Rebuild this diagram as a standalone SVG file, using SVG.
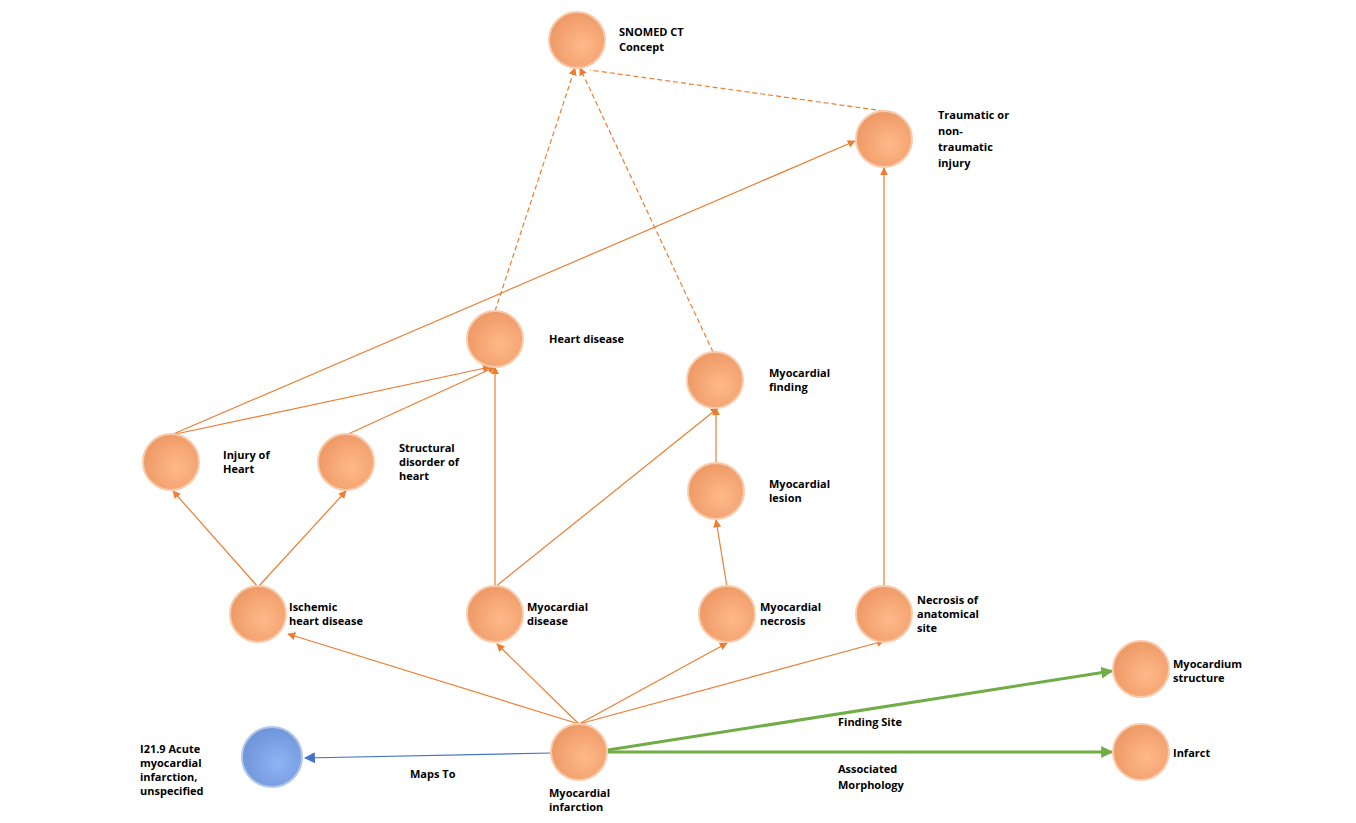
<svg xmlns="http://www.w3.org/2000/svg" width="1356" height="823" viewBox="0 0 1356 823">
<style>
text{font-family:"Open Sans","Liberation Sans",sans-serif;font-size:11px;font-weight:bold;fill:#000}
.o{stroke:#ED7D31;stroke-width:1.2;fill:none}
.d{stroke-dasharray:5 3}
.g{stroke:#70AD47;stroke-width:3;fill:none}
.b{stroke:#4472C4;stroke-width:1.2;fill:none}
.n{fill:url(#og);stroke:#F8CBAD;stroke-width:2}
.nb{fill:url(#bg);stroke:#B4C7E7;stroke-width:2}
</style>
<defs>
<radialGradient id="og" cx="0.6" cy="0.6" r="0.6"><stop offset="0" stop-color="#FFB98A"/><stop offset="1" stop-color="#EE9A66"/></radialGradient>
<radialGradient id="bg" cx="0.6" cy="0.6" r="0.6"><stop offset="0" stop-color="#8EB4F5"/><stop offset="1" stop-color="#6F95DA"/></radialGradient>
<marker id="ao" viewBox="0 0 10 10" refX="9" refY="5" markerWidth="8" markerHeight="8" markerUnits="userSpaceOnUse" orient="auto"><path d="M0,0L10,5L0,10z" fill="#ED7D31"/></marker>
<marker id="ag" viewBox="0 0 10 10" refX="9" refY="5" markerWidth="12" markerHeight="12" markerUnits="userSpaceOnUse" orient="auto"><path d="M0,0L10,5L0,10z" fill="#70AD47"/></marker>
<marker id="ab" viewBox="0 0 10 10" refX="9" refY="5" markerWidth="11" markerHeight="11" markerUnits="userSpaceOnUse" orient="auto"><path d="M0,0L10,5L0,10z" fill="#4472C4"/></marker>
</defs>
<g id="connectors">
<line class="o d" x1="495" y1="311" x2="575" y2="68" marker-end="url(#ao)"/>
<line class="o d" x1="713" y1="352" x2="580" y2="68" marker-end="url(#ao)"/>
<line class="o d" x1="884" y1="111" x2="590" y2="70"/>
<line class="o" x1="171" y1="435" x2="855" y2="141" marker-end="url(#ao)"/>
<line class="o" x1="171" y1="435" x2="490" y2="367" marker-end="url(#ao)"/>
<line class="o" x1="346" y1="435" x2="495" y2="367" marker-end="url(#ao)"/>
<line class="o" x1="258" y1="587" x2="173" y2="491" marker-end="url(#ao)"/>
<line class="o" x1="258" y1="587" x2="346" y2="491" marker-end="url(#ao)"/>
<line class="o" x1="495" y1="587" x2="495" y2="367" marker-end="url(#ao)"/>
<line class="o" x1="495" y1="587" x2="718" y2="408" marker-end="url(#ao)"/>
<line class="o" x1="716" y1="463" x2="716" y2="408" marker-end="url(#ao)"/>
<line class="o" x1="727" y1="587" x2="716" y2="520" marker-end="url(#ao)"/>
<line class="o" x1="884" y1="587" x2="884" y2="168" marker-end="url(#ao)"/>
<line class="o" x1="579" y1="724" x2="288" y2="634" marker-end="url(#ao)"/>
<line class="o" x1="579" y1="724" x2="497" y2="644" marker-end="url(#ao)"/>
<line class="o" x1="579" y1="724" x2="727" y2="643" marker-end="url(#ao)"/>
<line class="o" x1="579" y1="724" x2="884" y2="641" marker-end="url(#ao)"/>
<line class="b" x1="551" y1="753" x2="305" y2="758" marker-end="url(#ab)"/>
<line class="g" x1="608" y1="750" x2="1112" y2="671" marker-end="url(#ag)"/>
<line class="g" x1="608" y1="752" x2="1112" y2="752" marker-end="url(#ag)"/>
<text x="410" y="778">Maps To</text>
<text x="838" y="726">Finding Site</text>
<text x="838" y="773">Associated</text><text x="838" y="789">Morphology</text>
</g>
<g id="snomed"><circle class="n" cx="577" cy="40" r="28"/><text x="619" y="36">SNOMED CT</text><text x="619" y="51">Concept</text></g>
<g id="traumatic"><circle class="n" cx="884" cy="139" r="28"/><text x="938" y="119">Traumatic or</text><text x="938" y="135">non-</text><text x="938" y="151">traumatic</text><text x="938" y="167">injury</text></g>
<g id="heartdisease"><circle class="n" cx="495" cy="339" r="28"/><text x="549" y="343">Heart disease</text></g>
<g id="myofinding"><circle class="n" cx="715" cy="380" r="28"/><text x="769" y="377">Myocardial</text><text x="769" y="391">finding</text></g>
<g id="injury"><circle class="n" cx="171" cy="462" r="28"/><text x="223" y="459">Injury of</text><text x="223" y="473">Heart</text></g>
<g id="structural"><circle class="n" cx="346" cy="462" r="28"/><text x="399" y="452">Structural</text><text x="399" y="466">disorder of</text><text x="399" y="480">heart</text></g>
<g id="mylesion"><circle class="n" cx="716" cy="491" r="28"/><text x="769" y="488">Myocardial</text><text x="769" y="502">lesion</text></g>
<g id="ischemic"><circle class="n" cx="258" cy="614" r="28"/><text x="289" y="611">Ischemic</text><text x="289" y="625">heart disease</text></g>
<g id="mydisease"><circle class="n" cx="495" cy="614" r="28"/><text x="527" y="611">Myocardial</text><text x="527" y="625">disease</text></g>
<g id="mynecrosis"><circle class="n" cx="727" cy="614" r="28"/><text x="760" y="611">Myocardial</text><text x="760" y="625">necrosis</text></g>
<g id="necrosisanat"><circle class="n" cx="884" cy="614" r="28"/><text x="917" y="604">Necrosis of</text><text x="917" y="618">anatomical</text><text x="917" y="632">site</text></g>
<g id="myocardium"><circle class="n" cx="1141" cy="669" r="28"/><text x="1173" y="668">Myocardium</text><text x="1173" y="682">structure</text></g>
<g id="infarct"><circle class="n" cx="1141" cy="752" r="28"/><text x="1173" y="757">Infarct</text></g>
<g id="mi"><circle class="n" cx="579" cy="752" r="28"/><text x="549" y="797">Myocardial</text><text x="549" y="811">infarction</text></g>
<g id="i219"><circle class="nb" cx="272" cy="757" r="30"/><text x="140" y="753">I21.9 Acute</text><text x="140" y="767">myocardial</text><text x="140" y="781">infarction,</text><text x="140" y="795">unspecified</text></g>
</svg>
